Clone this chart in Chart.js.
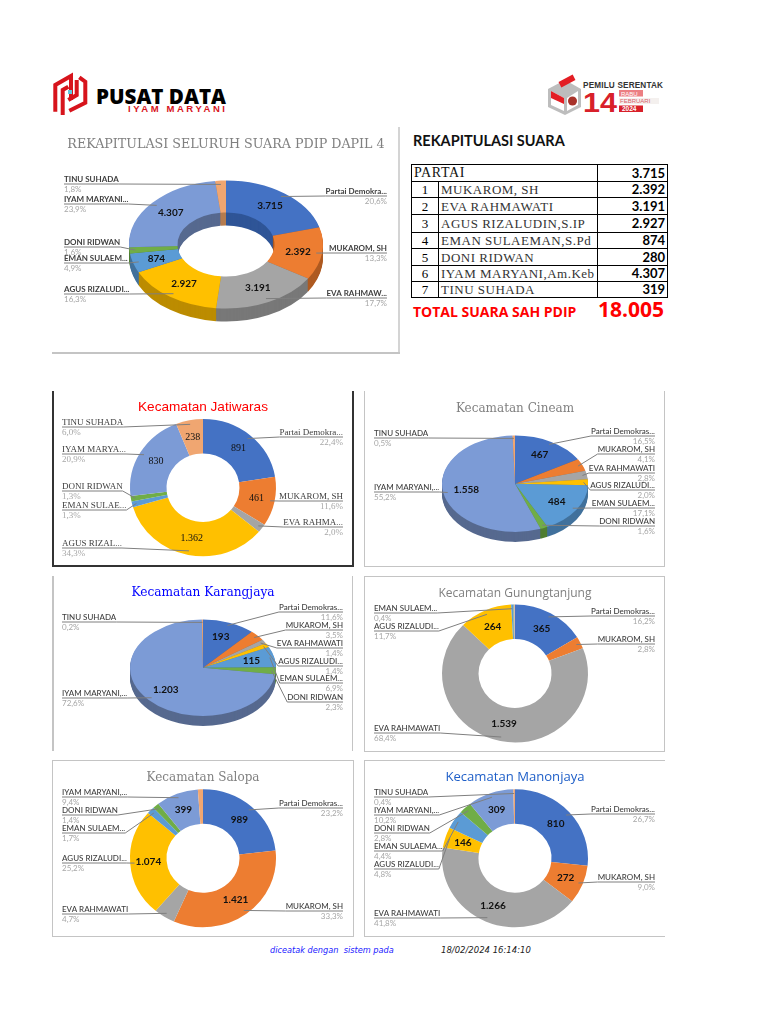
<!DOCTYPE html>
<html>
<head>
<meta charset="utf-8">
<title>Rekapitulasi Suara PDIP Dapil 4</title>
<script src="https://cdn.jsdelivr.net/npm/chart.js@4"></script>
<style>
html, body { margin: 0; padding: 0; background: #fff; }
#page { position: relative; width: 768px; height: 1024px; overflow: hidden; }
#page canvas { position: absolute; }
.line { position: absolute; background: #c4c4c4; }
.txt { position: absolute; white-space: nowrap; line-height: 1; }
#recap { position: absolute; left: 411px; top: 164px; width: 256px; border-collapse: collapse; table-layout: fixed; }
#recap td { border: 1px solid #000; padding: 0 2px; overflow: hidden; white-space: nowrap; }
#recap .no { text-align: center; font: 13px/1 "Liberation Serif", serif; }
#recap .name { font: 13px/1 "Liberation Serif", serif; letter-spacing: .5px; color: #333; }
#recap .num { text-align: right; font: bold 13px/1 Lato, sans-serif; }
</style>
</head>
<body>
<div id="page">
  <!-- logo kiri -->
  <svg style="position:absolute;left:50px;top:72px" width="180" height="48" viewBox="0 0 180 48">
    <g fill="none" stroke="#d7141c" stroke-width="4">
      <path d="M5.3 39.7V13L21 4V28"/>
      <path d="M12.7 43V18L18.3 14.7"/>
      <path d="M29.3 5.3L35.3 9.7V30.7L19.3 38.7"/>
      <path d="M26.7 8V23L18.3 28"/>
    </g>
    <rect x="18" y="18" width="4" height="4" fill="#5fc9e0"/>
    <text x="46" y="31.5" font-family="Open Sans" font-weight="800" font-size="21" fill="#000" textLength="130" lengthAdjust="spacingAndGlyphs">PUSAT DATA</text>
    <text x="78" y="40" font-family="Liberation Sans" font-weight="700" font-size="9.5" fill="#d7141c" textLength="97">IYAM MARYANI</text>
  </svg>
  <!-- logo kanan -->
  <svg style="position:absolute;left:545px;top:74px" width="122" height="46" viewBox="0 0 122 46">
    <path d="M3 15L20 6L36 15V33L20 41L3 33Z" fill="#bdbdbd"/>
    <path d="M6 17L19 24V37L6 31Z" fill="#fff"/>
    <path d="M6 17L19 24V30L6 24Z" fill="#e31e24"/>
    <path d="M22 24L33 17V31L22 37Z" fill="#fff"/>
    <circle cx="27.5" cy="27" r="4.5" fill="#a8322a"/>
    <rect x="14" y="4" width="16" height="6" fill="#e31e24" transform="rotate(-28 22 7)"/>
    <text x="38" y="14" font-family="Liberation Sans" font-weight="700" font-size="8.2" fill="#333" textLength="80">PEMILU SERENTAK</text>
    <text x="38" y="38" font-family="Liberation Sans" font-weight="700" font-size="28" fill="#d8202a" textLength="34" lengthAdjust="spacingAndGlyphs">14</text>
    <rect x="74" y="16" width="24" height="6.5" fill="#ec7f83"/>
    <text x="76" y="21.5" font-family="Liberation Sans" font-size="6" fill="#fff">RABU</text>
    <rect x="74" y="24" width="40" height="6" fill="#f4f0ee"/>
    <text x="75" y="29.3" font-family="Liberation Sans" font-size="6" fill="#d8606a">FEBRUARI</text>
    <rect x="74" y="31.5" width="24" height="6.5" fill="#d8202a"/>
    <text x="77" y="37.3" font-family="Liberation Sans" font-weight="700" font-size="6.5" fill="#fff">2024</text>
  </svg>

  <!-- bingkai panel -->
  <div class="line" style="left:398px;top:127px;width:2px;height:226px;background:#d4d4d4"></div>
  <div class="line" style="left:52px;top:352px;width:348px;height:2px;background:#c4c4c4"></div>

  <div class="line" style="left:52px;top:391px;width:2px;height:176px;background:#333"></div>
  <div class="line" style="left:352px;top:391px;width:2px;height:176px;background:#333"></div>
  <div class="line" style="left:52px;top:565px;width:302px;height:2px;background:#333"></div>

  <div class="line" style="left:364px;top:391px;width:1px;height:176px"></div>
  <div class="line" style="left:664px;top:391px;width:1px;height:176px"></div>
  <div class="line" style="left:364px;top:566px;width:301px;height:1px"></div>

  <div class="line" style="left:52px;top:576px;width:2px;height:175px"></div>
  <div class="line" style="left:352px;top:576px;width:1px;height:175px"></div>

  <div class="line" style="left:364px;top:576px;width:301px;height:1px"></div>
  <div class="line" style="left:364px;top:576px;width:1px;height:176px"></div>
  <div class="line" style="left:664px;top:576px;width:1px;height:176px"></div>
  <div class="line" style="left:364px;top:751px;width:301px;height:1px"></div>

  <div class="line" style="left:52px;top:760px;width:302px;height:1px"></div>
  <div class="line" style="left:52px;top:760px;width:1px;height:177px"></div>
  <div class="line" style="left:353px;top:760px;width:1px;height:177px"></div>
  <div class="line" style="left:52px;top:936px;width:302px;height:1px"></div>

  <div class="line" style="left:364px;top:760px;width:301px;height:1px"></div>
  <div class="line" style="left:364px;top:760px;width:1px;height:177px"></div>
  <div class="line" style="left:364px;top:936px;width:301px;height:1px"></div>

  <canvas id="mainChart" width="340" style="left:56px;top:127px"></canvas>
  <canvas id="jatiwarasChart" width="300" style="left:53px;top:388px"></canvas>
  <canvas id="cineamChart" width="300" style="left:365px;top:388px"></canvas>
  <canvas id="karangjayaChart" width="300" style="left:53px;top:574px"></canvas>
  <canvas id="gunungChart" width="300" style="left:365px;top:574px"></canvas>
  <canvas id="salopaChart" width="300" style="left:53px;top:758px"></canvas>
  <canvas id="manonjayaChart" width="300" style="left:365px;top:758px"></canvas>

  <div class="txt" style="left:413px;top:134px;font:700 14.5px/1 Lato,sans-serif;color:#111">REKAPITULASI SUARA</div>
  <table id="recap">
    <colgroup><col style="width:27px"><col style="width:159px"><col style="width:70px"></colgroup>
    <tbody id="recapBody"></tbody>
  </table>
  <div class="txt" style="left:413px;top:305px;font:700 14px/1 'Open Sans',sans-serif;color:#f00">TOTAL SUARA SAH PDIP</div>
  <div class="txt" id="totalVotes" style="right:104px;top:299px;font:700 21px/1 'Open Sans',sans-serif;color:#f00"></div>

  <div class="txt" style="left:270px;top:946px;font:italic 8.2px/1 'DejaVu Sans',sans-serif;color:#1a1aff">diceatak dengan&nbsp; sistem pada</div>
  <div class="txt" style="left:441px;top:946px;font:italic 8.5px/1 'DejaVu Sans',sans-serif;color:#222">18/02/2024 16:14:10</div>
</div>

<script>
const colors = ['#4472C4', '#ED7D31', '#A5A5A5', '#FFC000', '#5B9BD5', '#70AD47', '#7C9BD6', '#F0A671'];
const sideColors = ['#2F5597', '#AE5A21', '#787878', '#BC8C00', '#41719C', '#507E32', '#56698F', '#B57C50'];

const candidates = ['PARTAI', 'MUKAROM, SH', 'EVA RAHMAWATI', 'AGUS RIZALUDIN,S.IP', 'EMAN SULAEMAN,S.Pd', 'DONI RIDWAN', 'IYAM MARYANI,Am.Keb', 'TINU SUHADA'];

// nilai per slice, urutan sama dengan candidates
const mainValues = [3715, 2392, 3191, 2927, 874, 280, 4307, 319];
const jatiwarasValues = [891, 461, 81, 1362, 53, 53, 830, 238];
const cineamValues = [467, 117, 80, 57, 484, 46, 1558, 15];
const karangjayaValues = [193, 58, 23, 23, 115, 38, 1203, 4];
const gunungValues = [365, 63, 1539, 264, 9, 3, 4, 3];
const salopaValues = [989, 1421, 200, 1074, 72, 60, 399, 48];
const manonjayaValues = [810, 272, 1266, 146, 132, 84, 309, 11];

// nama yang terpotong di callout
const mainNames = ['Partai Demokra...', 'MUKAROM, SH', 'EVA RAHMAW...', 'AGUS RIZALUDI...', 'EMAN SULAEM...', 'DONI RIDWAN', 'IYAM MARYANI...', 'TINU SUHADA'];
const jatiwarasNames = ['Partai Demokra...', 'MUKAROM, SH', 'EVA RAHMA...', 'AGUS RIZAL...', 'EMAN SULAE...', 'DONI RIDWAN', 'IYAM MARYA...', 'TINU SUHADA'];
const cineamNames = ['Partai Demokras...', 'MUKAROM, SH', 'EVA RAHMAWATI', 'AGUS RIZALUDI...', 'EMAN SULAEM...', 'DONI RIDWAN', 'IYAM MARYANI,...', 'TINU SUHADA'];
const karangjayaNames = cineamNames;
const gunungNames = ['Partai Demokras...', 'MUKAROM, SH', 'EVA RAHMAWATI', 'AGUS RIZALUDI...', 'EMAN SULAEM...', null, null, null];
const salopaNames = ['Partai Demokras...', 'MUKAROM, SH', 'EVA RAHMAWATI', 'AGUS RIZALUDI...', 'EMAN SULAEM...', 'DONI RIDWAN', 'IYAM MARYANI,...', null];
const manonjayaNames = ['Partai Demokras...', 'MUKAROM, SH', 'EVA RAHMAWATI', 'AGUS RIZALUDI...', 'EMAN SULAEMA...', 'DONI RIDWAN', 'IYAM MARYANI,...', 'TINU SUHADA'];

// posisi garis callout (y di halaman)
const mainLineY = [196, 253, 298, 294, 263, 247, 204, 184];
const jatiwarasLineY = [437, 501, 527, 548, 510, 491, 454, 427];
const cineamLineY = [436, 454, 473, 490, 508, 526, 492, 438];
const karangjayaLineY = [612, 630, 648, 666, 683, 702, 698, 622];
const gunungLineY = [616, 644, 733, 631, 613, null, null, null];
const salopaLineY = [808, 911, 914, 863, 833, 815, 797, null];
const manonjayaLineY = [814, 882, 918, 869, 851, 833, 815, 797];

function fmt(n) {
    return String(n).replace(/\B(?=(\d{3})+$)/g, '.');
}

// elips + sisi 3D, arc tetap dari elemen chart
const tiltPlugin = {
    id: 'tilt',
    beforeDatasetsDraw(chart, args, o) {
        const ctx = chart.ctx;
        const arcs = chart.getDatasetMeta(0).data;
        const place = (dy) => {
            const a = arcs[0];
            ctx.translate(0, o.cy - o.top + dy);
            ctx.scale(1, o.k);
            ctx.translate(0, -a.y);
        };
        for (let d = o.depth; d > 0; d--) {
            ctx.save();
            place(d);
            arcs.forEach((a, i) => {
                ctx.beginPath();
                ctx.arc(a.x, a.y, a.outerRadius, a.startAngle, a.endAngle);
                if (a.innerRadius > 0) {
                    ctx.arc(a.x, a.y, a.innerRadius, a.endAngle, a.startAngle, true);
                } else {
                    ctx.lineTo(a.x, a.y);
                }
                ctx.closePath();
                ctx.fillStyle = sideColors[i];
                ctx.fill();
            });
            ctx.restore();
        }
        ctx.save();
        place(0);
    },
    afterDatasetsDraw(chart) {
        chart.ctx.restore();
    }
};

// callout dan angka di slice
const calloutPlugin = {
    id: 'callout',
    afterDraw(chart, args, o) {
        const ctx = chart.ctx;
        const values = chart.data.datasets[0].data;
        const total = values.reduce((a, b) => a + b, 0);
        const tilt = chart.options.plugins.tilt;
        const cy = tilt.cy - tilt.top;
        ctx.save();
        chart.getDatasetMeta(0).data.forEach((a, i) => {
            const mid = (a.startAngle + a.endAngle) / 2;
            if (o.names[i]) {
                const rad = a.outerRadius * 0.94;
                const ax = a.x + rad * Math.cos(mid);
                const ay = cy + tilt.k * rad * Math.sin(mid);
                const right = Math.cos(mid) > 0;
                const edge = right ? o.right - o.left : o.leftEdge - o.left;
                const ly = o.lineY[i] - tilt.top;
                ctx.font = o.nameFont;
                const w = ctx.measureText(o.names[i]).width;
                const elbow = right ? edge - w : edge + w;
                ctx.strokeStyle = '#7f7f7f';
                ctx.lineWidth = 1;
                ctx.beginPath();
                ctx.moveTo(edge, ly);
                ctx.lineTo(elbow, ly);
                ctx.lineTo(ax, ay);
                ctx.stroke();
                ctx.textAlign = right ? 'right' : 'left';
                ctx.textBaseline = 'alphabetic';
                ctx.fillStyle = '#404040';
                ctx.fillText(o.names[i], edge, ly - 2);
                ctx.font = o.pctFont;
                ctx.fillStyle = '#a6a6a6';
                ctx.fillText((values[i] / total * 100).toFixed(1).replace('.', ',') + '%', edge, ly + 8);
            }
            if (values[i] >= o.minValue) {
                const rad = a.innerRadius > 0 ? (a.innerRadius + a.outerRadius) / 2 : a.outerRadius * 0.68;
                ctx.font = o.valueFont;
                ctx.textAlign = 'center';
                ctx.textBaseline = 'middle';
                ctx.fillStyle = '#111';
                ctx.fillText(fmt(values[i]), a.x + rad * Math.cos(mid), cy + tilt.k * rad * Math.sin(mid));
            }
        });
        ctx.restore();
    }
};

function makeChart(id, type, values, radius, tilt, title, callout) {
    const el = document.getElementById(id);
    tilt.top = parseFloat(el.style.top);
    callout.left = parseFloat(el.style.left);
    // tinggi canvas = judul + diameter, supaya radius pas tanpa padding kiri/kanan
    const block = title.padding.top + title.font.size * 1.2 + title.padding.bottom;
    el.height = Math.ceil(block + radius * 2);
    return new Chart(el, {
        type: type,
        data: {
            labels: candidates,
            datasets: [{ data: values, backgroundColor: colors, borderWidth: 0 }]
        },
        options: {
            responsive: false,
            animation: false,
            cutout: type === 'doughnut' ? '50%' : 0,
            layout: { padding: { bottom: el.height - block - radius * 2 } },
            plugins: {
                legend: { display: false },
                tooltip: { enabled: false },
                title: { display: true, text: title.text, color: title.color, font: title.font, padding: title.padding },
                tilt: tilt,
                callout: callout
            }
        },
        plugins: [tiltPlugin, calloutPlugin]
    });
}

const boldName = { nameFont: '700 8px Lato', pctFont: '8px Lato', valueFont: '700 10px Lato' };
const sansName = { nameFont: '500 8px Lato', pctFont: '8px Lato', valueFont: '700 10px Lato' };
const serifName = { nameFont: '9px "Liberation Serif"', pctFont: '9px "Liberation Serif"', valueFont: '10px "Liberation Serif"' };
const titleSerif = { family: '"DejaVu Serif"', size: 12, weight: 'normal' };

makeChart('mainChart', 'doughnut', mainValues, 97, { cy: 244.5, k: 0.66, depth: 13 },
    { text: 'REKAPITULASI SELURUH SUARA PDIP DAPIL 4', color: '#808080', font: { family: '"DejaVu Serif"', size: 12.7, weight: 'normal' }, padding: { top: 10, bottom: 4 } },
    { ...boldName, names: mainNames, lineY: mainLineY, leftEdge: 64, right: 387, minValue: 800 });

makeChart('jatiwarasChart', 'doughnut', jatiwarasValues, 73, { cy: 487.7, k: 0.94, depth: 0 },
    { text: 'Kecamatan Jatiwaras', color: '#FF0000', font: { family: '"Liberation Sans"', size: 13.6, weight: 'normal' }, padding: { top: 11, bottom: 4 } },
    { ...serifName, names: jatiwarasNames, lineY: jatiwarasLineY, leftEdge: 62, right: 343, minValue: 200 });

makeChart('cineamChart', 'pie', cineamValues, 73, { cy: 483.7, k: 0.66, depth: 10 },
    { text: 'Kecamatan Cineam', color: '#808080', font: titleSerif, padding: { top: 14, bottom: 4 } },
    { ...sansName, names: cineamNames, lineY: cineamLineY, leftEdge: 374, right: 655, minValue: 150 });

makeChart('karangjayaChart', 'pie', karangjayaValues, 73, { cy: 667.7, k: 0.66, depth: 10 },
    { text: 'Kecamatan Karangjaya', color: '#0000FF', font: { family: '"DejaVu Serif"', size: 12.2, weight: 'normal' }, padding: { top: 12, bottom: 4 } },
    { ...sansName, names: karangjayaNames, lineY: karangjayaLineY, leftEdge: 62, right: 343, minValue: 100 });

makeChart('gunungChart', 'doughnut', gunungValues, 73, { cy: 673.5, k: 0.945, depth: 0 },
    { text: 'Kecamatan Gunungtanjung', color: '#808080', font: { family: '"Open Sans"', size: 12, weight: 'normal' }, padding: { top: 12, bottom: 4 } },
    { ...sansName, names: gunungNames, lineY: gunungLineY, leftEdge: 374, right: 655, minValue: 100 });

makeChart('salopaChart', 'doughnut', salopaValues, 73, { cy: 858.3, k: 0.945, depth: 0 },
    { text: 'Kecamatan Salopa', color: '#808080', font: titleSerif, padding: { top: 13, bottom: 4 } },
    { ...sansName, names: salopaNames, lineY: salopaLineY, leftEdge: 62, right: 343, minValue: 300 });

makeChart('manonjayaChart', 'doughnut', manonjayaValues, 73, { cy: 858.3, k: 0.945, depth: 0 },
    { text: 'Kecamatan Manonjaya', color: '#1F5FC8', font: { family: '"Open Sans"', size: 13.1, weight: 'normal' }, padding: { top: 11, bottom: 4 } },
    { ...sansName, names: manonjayaNames, lineY: manonjayaLineY, leftEdge: 374, right: 655, minValue: 140 });

// tabel rekap
const rowHeights = [17, 16, 17, 18, 16, 17, 16, 16];
const body = document.getElementById('recapBody');
candidates.forEach((c, i) => {
    const tr = document.createElement('tr');
    tr.style.height = rowHeights[i] + 'px';
    if (i === 0) {
        tr.innerHTML = '<td class="name" colspan="2" style="letter-spacing:.6px;font-size:14px;color:#111">' + c + '</td><td class="num">' + fmt(mainValues[i]) + '</td>';
    } else {
        tr.innerHTML = '<td class="no">' + i + '</td><td class="name">' + c + '</td><td class="num">' + fmt(mainValues[i]) + '</td>';
    }
    body.appendChild(tr);
});
document.getElementById('totalVotes').textContent = fmt(mainValues.reduce((a, b) => a + b, 0));
</script>
</body>
</html>
